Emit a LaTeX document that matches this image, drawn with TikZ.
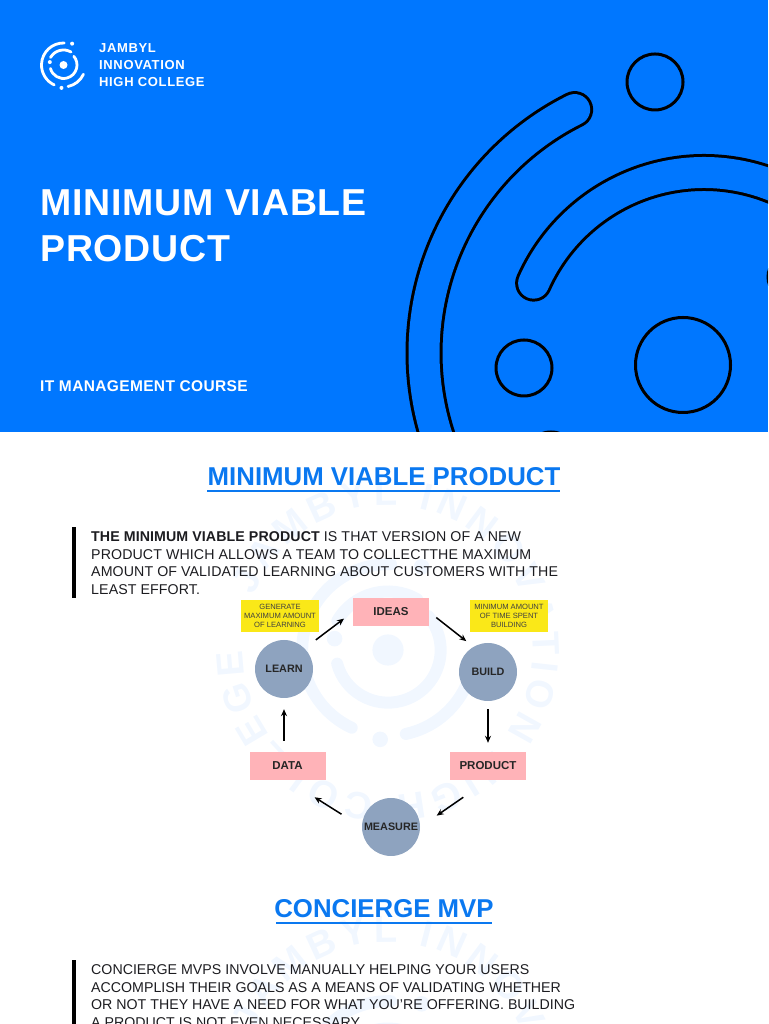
\documentclass[tikz,border=0pt]{standalone}
\usepackage{fontspec}
\setmainfont{Liberation Sans}
\usetikzlibrary{positioning,arrows.meta,decorations.text}
\definecolor{jihcblue}{RGB}{0,119,255}
\definecolor{headblue}{RGB}{10,120,240}
\definecolor{markblue}{RGB}{241,247,255}
\definecolor{circfill}{RGB}{142,163,191}
\definecolor{boxpink}{RGB}{255,179,184}
\definecolor{boxyellow}{RGB}{250,232,24}
\definecolor{bodygrey}{RGB}{28,28,32}
\newcommand{\jihcmark}[5]{%
\begin{scope}[shift={(#1,#2)},scale=#3]
\draw[#5,line width=#4,line cap=round] (88:22) arc (88:245:22);
\draw[#5,line width=#4,line cap=round] (282:22) arc (282:335:22);
\draw[#5,line width=#4,line cap=round] (150:15) arc (150:60:15);
\draw[#5,line width=#4,line cap=round] (195:13.5) arc (195:400:13.5);
\fill[#5] (0,0) circle (4);
\fill[#5] (68:23) circle (2);
\fill[#5] (265:23) circle (2);
\fill[#5] (168:14) circle (2);
\end{scope}}
\tikzset{
	ring/.style={draw=black,line width=3pt},
	headline/.style={anchor=center,inner sep=0pt,text=headblue,font=\fontsize{25.8}{26}\selectfont\bfseries},
	rule/.style={draw=headblue,line width=2pt},
	para/.style={anchor=north west,inner sep=0pt,align=left,text=bodygrey,font=\fontsize{14.2}{17.6}\selectfont},
	stepcirc/.style={circle,fill=circfill,minimum size=58pt,inner sep=0pt,text=black!85,font=\fontsize{10.8}{11}\selectfont\bfseries},
	stepbox/.style={fill=boxpink,minimum width=76pt,minimum height=28pt,inner sep=0pt,text=black!85,font=\fontsize{11.5}{12}\selectfont\bfseries},
	notebox/.style={fill=boxyellow,minimum width=78pt,minimum height=32pt,inner sep=0pt,align=center,text=black!75,font=\fontsize{7.6}{8.7}\selectfont},
	flow/.style={-{Stealth[length=7pt,width=6pt]},line width=1.5pt}
}
\begin{document}
\begin{tikzpicture}[x=1pt,y=1pt]
\useasboundingbox (0,0) rectangle (768,1024);
\clip (0,0) rectangle (768,1024);
% watermarks
\foreach \wy in {374,-63} {
	\jihcmark{388}{\wy}{3.9}{12pt}{markblue}
	\path[decorate,decoration={text along path,text align=fit to path,
		text={|\fontsize{38}{38}\selectfont\bfseries\color{markblue}|JAMBYL INNOVATION HIGH COLLEGE}}]
		(388,\wy)++(158:145) arc (158:-180:145);
}
% cover
\fill[jihcblue] (0,592) rectangle (768,1024);
\begin{scope}
\clip (0,592) rectangle (768,1024);
\draw[black,line width=37pt,line cap=round] (696,671)++(116.5:272) arc (116.5:230:272);
\draw[jihcblue,line width=31pt,line cap=round] (696,671)++(116.5:272) arc (116.5:230:272);
\draw[black,line width=37pt,line cap=round] (704,665)++(156:186.5) arc (156:60:186.5);
\draw[jihcblue,line width=31pt,line cap=round] (704,665)++(156:186.5) arc (156:60:186.5);
\foreach \cx/\cy/\cr in {655/942/28, 524/656/28, 683/659/47.5, 551/564/28, 790/747/22} {
	\draw[ring] (\cx,\cy) circle (\cr);
}
\end{scope}
\jihcmark{63.5}{959}{1}{2.8pt}{white}
\node[anchor=west,inner sep=0pt,align=left,text=white,font=\fontsize{13}{17}\selectfont\bfseries\addfontfeatures{LetterSpace=5}] (college) at (99,959) {JAMBYL\\INNOVATION\\HIGH COLLEGE};
\node[anchor=west,inner sep=0pt,align=left,text=white,font=\fontsize{37.5}{46.5}\selectfont\bfseries\addfontfeatures{LetterSpace=2.2}] (title) at (40,798) {MINIMUM VIABLE\\PRODUCT};
\node[anchor=west,inner sep=0pt,text=white,font=\fontsize{15.5}{16}\selectfont\bfseries\addfontfeatures{LetterSpace=2.3}] (course) at (40,638) {IT MANAGEMENT COURSE};
% first section
\node[headline] (head1) at (384,547) {MINIMUM VIABLE PRODUCT};
\draw[rule] (207,533) -- (560,533);
\fill[black] (72,426) rectangle (76,497);
\node[para,font=\fontsize{14.2}{17.6}\selectfont\addfontfeatures{LetterSpace=0.7}] (text1) at (91,492.5) {\textbf{THE MINIMUM VIABLE PRODUCT} IS THAT VERSION OF A NEW\\PRODUCT WHICH ALLOWS A TEAM TO COLLECTTHE MAXIMUM\\AMOUNT OF VALIDATED LEARNING ABOUT CUSTOMERS WITH THE\\LEAST EFFORT.};
% loop
\node[stepbox] (ideas) at (391,412) {IDEAS};
\node[stepcirc] (build) at (488,352) {BUILD};
\node[stepbox] (product) at (488,258) {PRODUCT};
\node[stepcirc] (measure) at (391,197) {MEASURE};
\node[stepbox] (data) at (287.5,258) {DATA};
\node[stepcirc] (learn) at (284,355) {LEARN};
\node[notebox] (gen) at (280,408) {GENERATE\\MAXIMUM AMOUNT\\OF LEARNING};
\node[notebox] (mintime) at (509,408) {MINIMUM AMOUNT\\OF TIME SPENT\\BUILDING};
\draw[flow,shorten <=9pt,shorten >=9pt] (ideas.east) -- (build.120);
\draw[flow,shorten <=8pt,shorten >=9pt] (build.south) -- (product.north);
\draw[flow,shorten <=30pt,shorten >=20pt] (product.south) -- (measure.east);
\draw[flow,shorten <=24pt,shorten >=32pt] (measure.west) -- (data.south);
\draw[flow,shorten <=11pt,shorten >=11pt] (learn |- data.north) -- (learn.south);
\draw[flow,shorten <=14pt,shorten >=11pt] (learn.45) -- (ideas.west);
% second section
\node[headline] (head2) at (384,115) {CONCIERGE MVP};
\draw[rule] (276,101) -- (492,101);
\fill[black] (72,0) rectangle (76,64);
\node[para] (text2) at (91,59.5) {CONCIERGE MVPS INVOLVE MANUALLY HELPING YOUR USERS\\ACCOMPLISH THEIR GOALS AS A MEANS OF VALIDATING WHETHER\\OR NOT THEY HAVE A NEED FOR WHAT YOU'RE OFFERING. BUILDING\\A PRODUCT IS NOT EVEN NECESSARY.};
\end{tikzpicture}
\end{document}
